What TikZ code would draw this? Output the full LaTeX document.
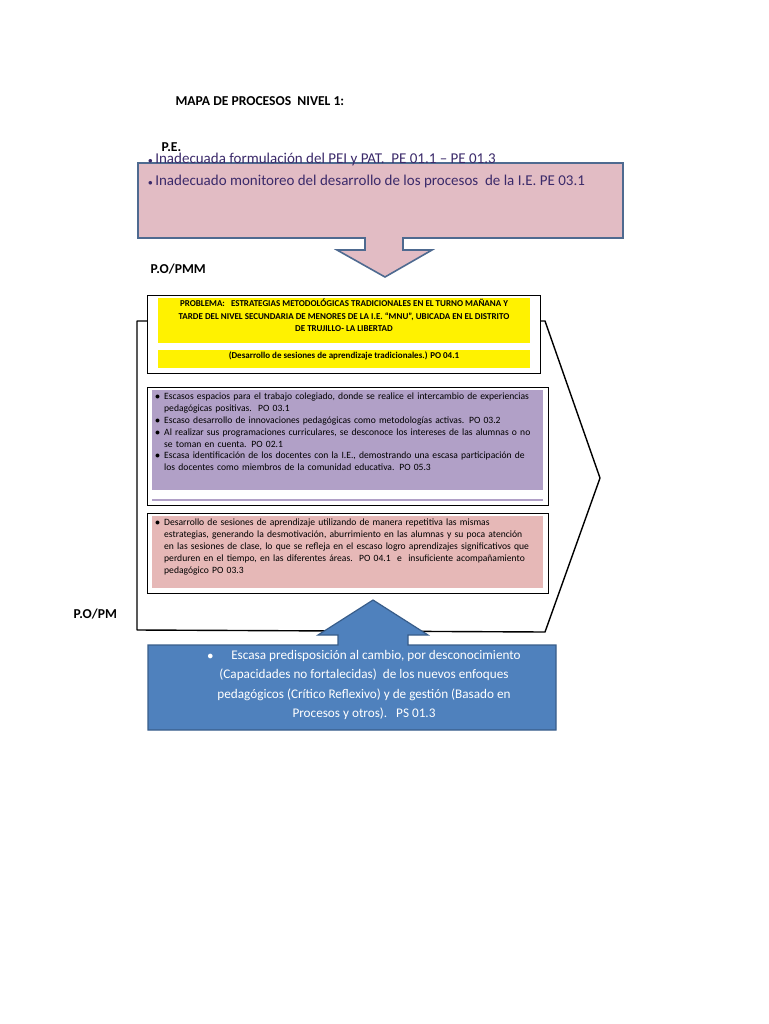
\documentclass[tikz,border=0pt]{standalone}
\usepackage{fontspec}
\setmainfont{Carlito}
\begin{document}
\begin{tikzpicture}[x=1pt,y=-1pt,
  lbl/.style={anchor=base west,font=\bfseries\fontsize{13.6}{16}\selectfont},
  small/.style={anchor=north west,inner sep=0pt,align=left,font=\fontsize{9.6}{11.8}\selectfont},
  wbox/.style={draw=black,line width=1pt,fill=white}]
\useasboundingbox (0,0) rectangle (768,1024);
\definecolor{pinkf}{HTML}{E2BCC4}
\definecolor{pinkd}{HTML}{4E6A90}
\definecolor{purp}{HTML}{B1A0C7}
\definecolor{rosef}{HTML}{E6B8B7}
\definecolor{blu}{HTML}{4F81BD}
\definecolor{blud}{HTML}{385D8A}
\definecolor{txtp}{HTML}{3B2A6A}

\node[lbl] (title) at (172,106) {MAPA DE PROCESOS\ \ NIVEL 1:};
\node[lbl] (pe) at (158,152) {P.E.};
\node[lbl] (pomm) at (147,273) {P.O/PMM};
\node[lbl] (popm) at (70,618) {P.O/PM};

% pink arrow box
\draw[draw=pinkd,line width=1.6pt,fill=pinkf]
 (138,163) -- (623,163) -- (623,238) -- (403,238) -- (403,250) -- (432,250) -- (385,277)
 -- (337,250) -- (365,250) -- (365,238) -- (138,238) -- cycle;
\node[anchor=base west,inner sep=0pt,text=txtp,font=\fontsize{15}{22}\selectfont,align=left] (pet) at (148,186)
 {{\small$\bullet$}\,Inadecuada formulación del PEI y PAT.\ \ PE 01.1 – PE 01.3\\
  {\small$\bullet$}\,Inadecuado monitoreo del desarrollo de los procesos\ \ de la I.E. PE 03.1};

% chevron outline
\draw[line width=1.4pt,line join=round] (148,321) -- (137,321) -- (137,630) -- (545,632) -- (600,478) -- (545,321) -- (540,321);

% box 1
\node[wbox,minimum width=393pt,minimum height=78pt,anchor=north west] (b1) at (147,295) {};
\fill[yellow] (158,298) rectangle (530,343);
\fill[yellow] (158,350) rectangle (530,368);
\node[anchor=north,inner sep=0pt,align=center,font=\bfseries\fontsize{9}{12.5}\selectfont] (p1) at (344,299)
 {PROBLEMA:\ \ \ ESTRATEGIAS METODOLÓGICAS TRADICIONALES EN EL TURNO MAÑANA Y\\
  TARDE DEL NIVEL SECUNDARIA DE MENORES DE LA I.E. “MNU”, UBICADA EN EL DISTRITO\\
  DE TRUJILLO- LA LIBERTAD};
\node[anchor=north,inner sep=0pt,font=\bfseries\fontsize{9}{10}\selectfont] (p2) at (344,352)
 {(Desarrollo de sesiones de aprendizaje tradicionales.) PO 04.1};

% box 2
\node[wbox,minimum width=401pt,minimum height=118pt,anchor=north west] (b2) at (147,387) {};
\fill[purp] (152,390) rectangle (543,490);
\draw[purp,line width=1.2pt] (152,500) -- (543,500);
\node[small,text width=384pt] (t2) at (155,393)
 {\makebox[9pt][l]{$\bullet$}Escasos espacios para el trabajo colegiado, donde se realice el intercambio de experiencias\\
  \hspace*{9pt}pedagógicas positivas.\ \ PO 03.1\\
  \makebox[9pt][l]{$\bullet$}Escaso desarrollo de innovaciones pedagógicas como metodologías activas. PO 03.2\\
  \makebox[9pt][l]{$\bullet$}Al realizar sus programaciones curriculares, se desconoce los intereses de las alumnas o no\\
  \hspace*{9pt}se toman en cuenta. PO 02.1\\
  \makebox[9pt][l]{$\bullet$}Escasa identificación de los docentes con la I.E., demostrando una escasa participación de\\
  \hspace*{9pt}los docentes como miembros de la comunidad educativa. PO 05.3};

% box 3
\node[wbox,minimum width=401pt,minimum height=80pt,anchor=north west] (b3) at (147,513) {};
\fill[rosef] (152,516) rectangle (543,588);
\node[small,text width=384pt] (t3) at (155,519)
 {\makebox[9pt][l]{$\bullet$}Desarrollo de sesiones de aprendizaje utilizando de manera repetitiva las mismas\\
  \hspace*{9pt}estrategias, generando la desmotivación, aburrimiento en las alumnas y su poca atención\\
  \hspace*{9pt}en las sesiones de clase, lo que se refleja en el escaso logro aprendizajes significativos que\\
  \hspace*{9pt}perduren en el tiempo, en las diferentes áreas.\ \ PO 04.1\ \ e\ \ insuficiente acompañamiento\\
  \hspace*{9pt}pedagógico PO 03.3};

% blue arrow box
\draw[draw=blud,line width=1.2pt,fill=blu]
 (148,645) -- (338,645) -- (338,635) -- (318,635) -- (373,600) -- (428,635) -- (408,635) -- (408,645)
 -- (556,645) -- (556,730) -- (148,730) -- cycle;
\node[anchor=north,inner sep=0pt,align=center,text=white,font=\fontsize{13.2}{19.5}\selectfont] (bt) at (364,650)
 {$\bullet$\hspace{18pt}Escasa predisposición al cambio, por desconocimiento\\
  (Capacidades no fortalecidas)\ \ de los nuevos enfoques\\
  pedagógicos (Crítico Reflexivo) y de gestión (Basado en\\
  Procesos y otros).\ \ \ PS 01.3};
\end{tikzpicture}
\end{document}
